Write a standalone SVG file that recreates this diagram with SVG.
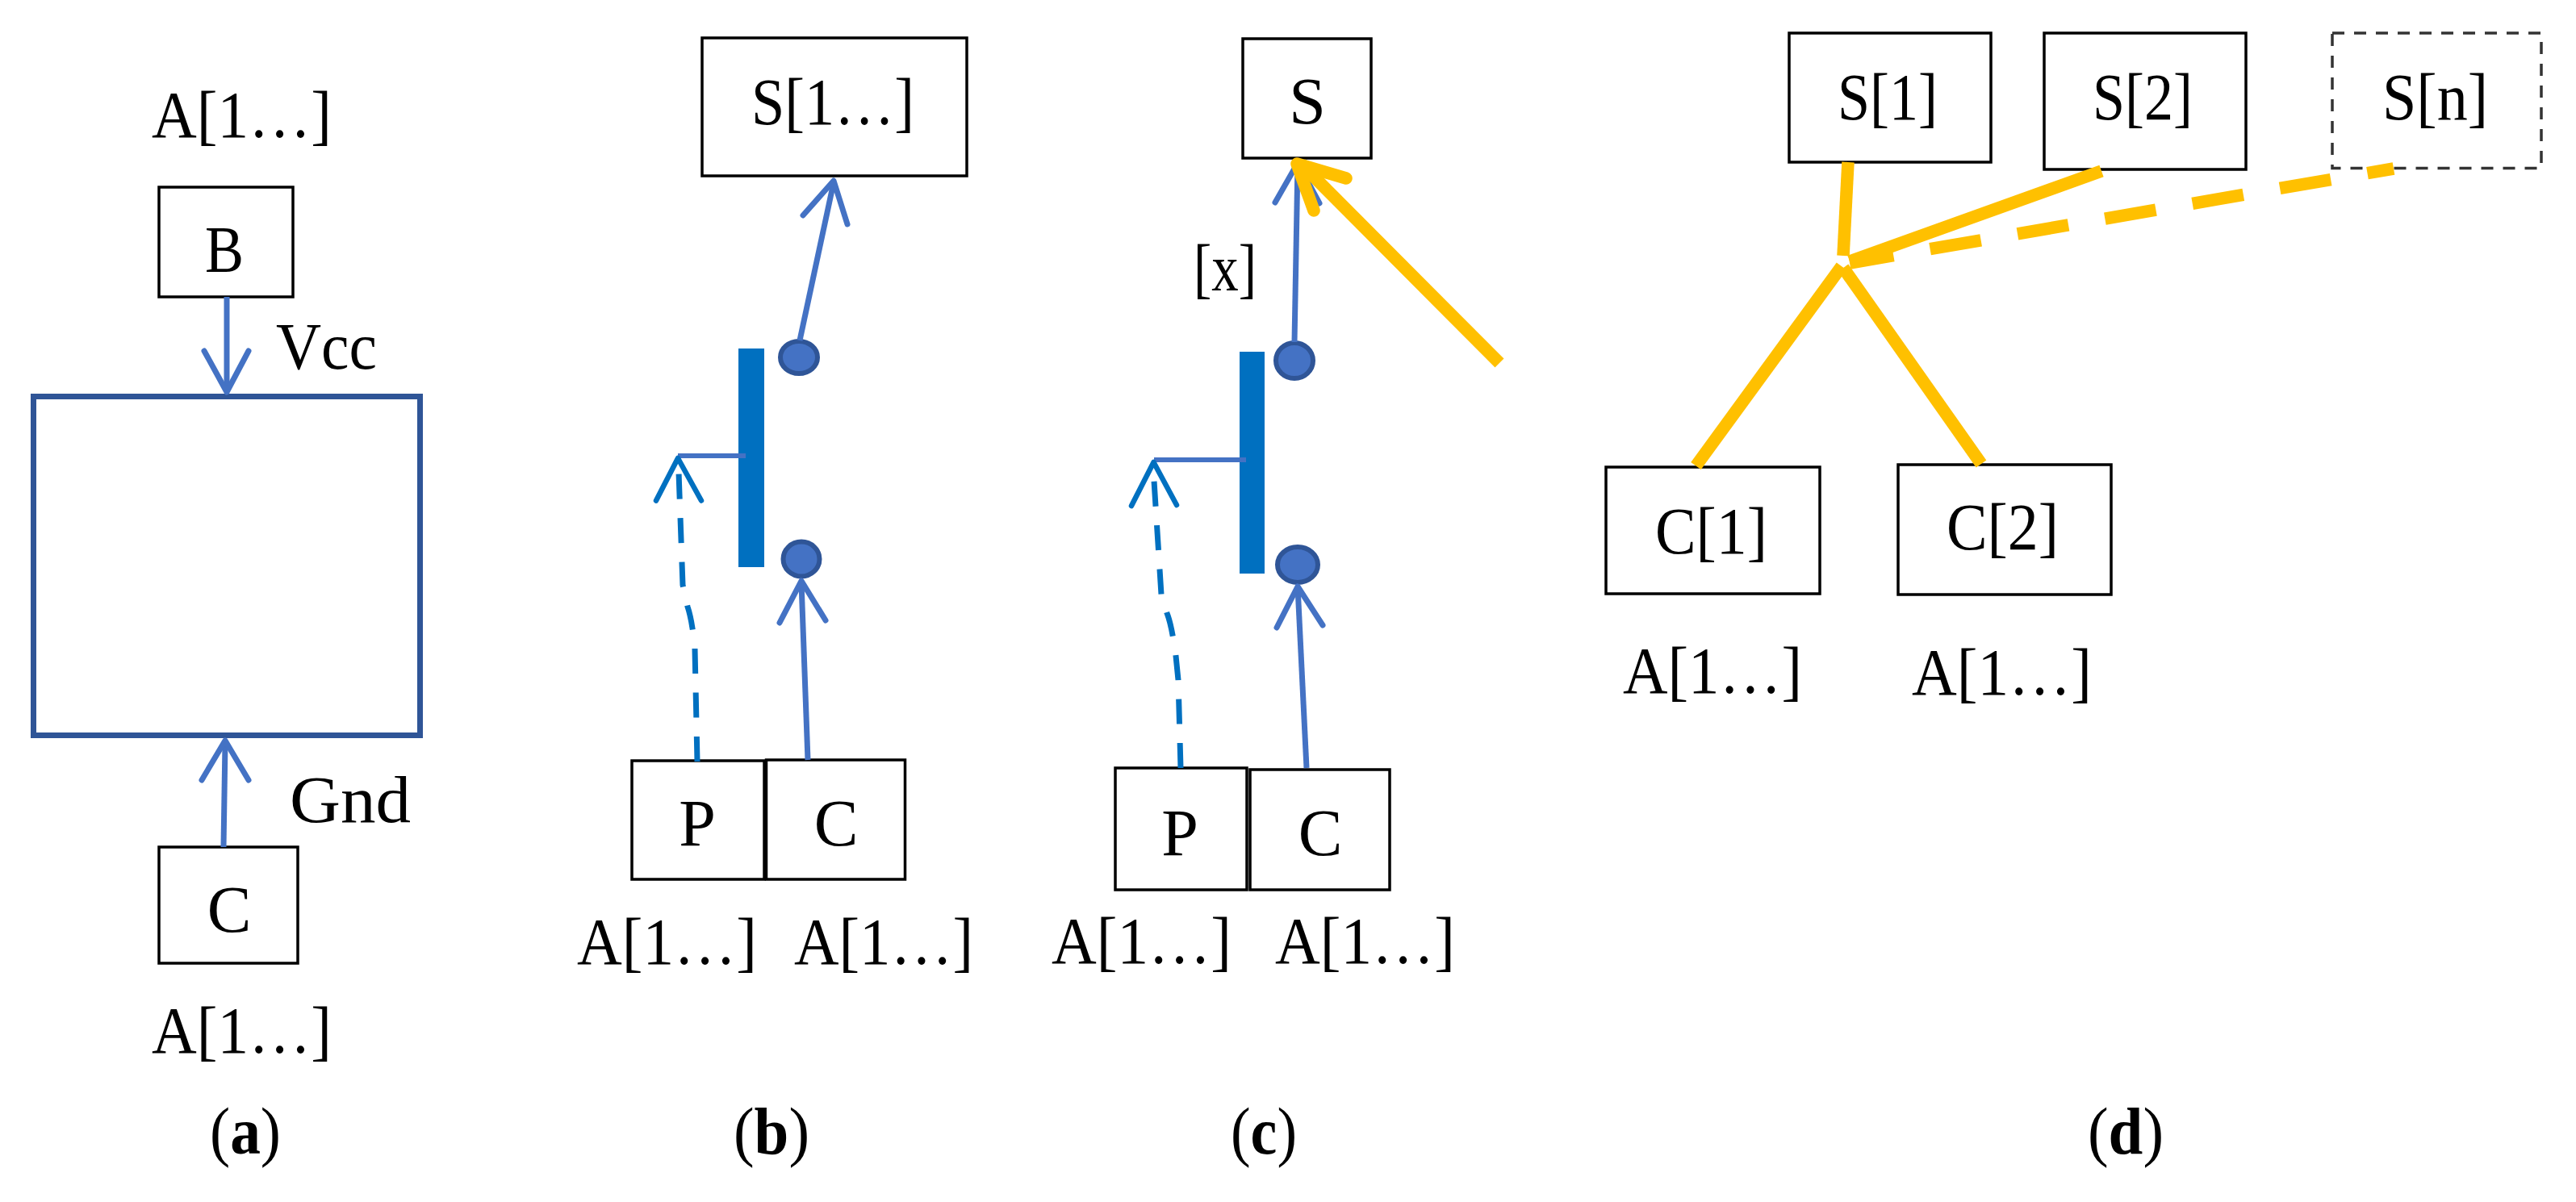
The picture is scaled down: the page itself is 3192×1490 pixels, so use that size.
<svg xmlns="http://www.w3.org/2000/svg" width="3192" height="1490" viewBox="0 0 3192 1490">
<style>
text{font-family:"Liberation Serif","Times New Roman",serif;font-size:82px;fill:#000}
.box{fill:#fff;stroke:#000;stroke-width:3.5}
.dash{stroke:#333;stroke-dasharray:15 12}
.c{text-anchor:middle}
.bar{fill:#0070C0}
.dot{fill:#4472C4;stroke:#2F5597;stroke-width:6}
.ln{fill:none;stroke:#4472C4;stroke-width:7;stroke-linecap:round;stroke-linejoin:round}
.butt{stroke-linecap:butt}
.stub{stroke-width:6}
.ctl{fill:none;stroke:#0070C0;stroke-width:6.5;stroke-linecap:round;stroke-linejoin:round}
.ctld{fill:none;stroke:#0070C0;stroke-width:7;stroke-dasharray:31 23.5}
.y{fill:none;stroke:#FFC000;stroke-width:15.5}
</style>
<rect width="3192" height="1490" fill="#fff"/>

<g id="panel-a">
<g id="a-label-top"><text x="188" y="170" textLength="223" lengthAdjust="spacingAndGlyphs">A[1…]</text></g>
<g id="a-b"><rect class="box" x="197" y="232" width="166" height="136"/><text class="c" x="278" y="337" textLength="48" lengthAdjust="spacingAndGlyphs">B</text></g>
<g id="a-vcc"><text x="342" y="457" textLength="125" lengthAdjust="spacingAndGlyphs">Vcc</text></g>
<g id="a-main"><rect x="41.5" y="491.5" width="479" height="420" fill="#fff" stroke="#2F5597" stroke-width="7"/></g>
<g id="a-gnd"><text x="359" y="1019" textLength="150" lengthAdjust="spacingAndGlyphs">Gnd</text></g>
<g id="a-c"><rect class="box" x="197" y="1050" width="172" height="144"/><text class="c" x="284" y="1155">C</text></g>
<g id="a-label-bottom"><text x="188" y="1305" textLength="223" lengthAdjust="spacingAndGlyphs">A[1…]</text></g>
<g id="a-caption"><text x="260" y="1430" textLength="88" lengthAdjust="spacingAndGlyphs">(<tspan font-weight="700">a</tspan>)</text></g>
</g>

<g id="panel-b">
<g id="b-s"><rect class="box" x="870" y="47" width="328" height="171"/><text x="931" y="154" textLength="202" lengthAdjust="spacingAndGlyphs">S[1…]</text></g>
<g id="b-switch"><rect class="bar" x="915" y="432" width="32" height="271"/><ellipse class="dot" cx="990" cy="443" rx="23" ry="20"/><ellipse class="dot" cx="993" cy="693" rx="22.500" ry="21.500"/></g>
<g id="b-p"><rect class="box" x="783" y="943" width="164" height="147"/><text class="c" x="864" y="1048">P</text></g>
<g id="b-c"><rect class="box" x="949.500" y="942" width="172" height="148"/><text class="c" x="1036" y="1048">C</text></g>
<g id="b-label-p"><text x="715" y="1195" textLength="223" lengthAdjust="spacingAndGlyphs">A[1…]</text></g>
<g id="b-label-c"><text x="984" y="1195" textLength="222" lengthAdjust="spacingAndGlyphs">A[1…]</text></g>
<g id="b-caption"><text x="909" y="1430" textLength="94" lengthAdjust="spacingAndGlyphs">(<tspan font-weight="700">b</tspan>)</text></g>
</g>

<g id="panel-c">
<g id="c-s"><rect class="box" x="1540" y="48" width="159" height="148"/><text class="c" x="1620" y="153">S</text></g>
<g id="c-x"><text x="1479" y="360" textLength="78" lengthAdjust="spacingAndGlyphs">[x]</text></g>
<g id="c-switch"><rect class="bar" x="1536" y="436" width="31" height="275"/><ellipse class="dot" cx="1604" cy="447" rx="23" ry="22"/><ellipse class="dot" cx="1608" cy="700" rx="25" ry="22"/></g>
<g id="c-p"><rect class="box" x="1382" y="952" width="163" height="151"/><text class="c" x="1462" y="1060">P</text></g>
<g id="c-c"><rect class="box" x="1549" y="954" width="173" height="149"/><text class="c" x="1636" y="1060">C</text></g>
<g id="c-label-p"><text x="1303" y="1194" textLength="223" lengthAdjust="spacingAndGlyphs">A[1…]</text></g>
<g id="c-label-c"><text x="1580" y="1194" textLength="223" lengthAdjust="spacingAndGlyphs">A[1…]</text></g>
<g id="c-caption"><text x="1525" y="1430" textLength="82" lengthAdjust="spacingAndGlyphs">(<tspan font-weight="700">c</tspan>)</text></g>
</g>

<g id="panel-d">
<g id="d-s1"><rect class="box" x="2217" y="41" width="250" height="160"/><text x="2277" y="148" textLength="124" lengthAdjust="spacingAndGlyphs">S[1]</text></g>
<g id="d-s2"><rect class="box" x="2533" y="41" width="250" height="169"/><text x="2593" y="148" textLength="124" lengthAdjust="spacingAndGlyphs">S[2]</text></g>
<g id="d-sn"><rect class="box dash" x="2890" y="41" width="259" height="167.500"/><text x="2952" y="148" textLength="131" lengthAdjust="spacingAndGlyphs">S[n]</text></g>
<g id="d-c1"><rect class="box" x="1990" y="579" width="265" height="157"/><text x="2051" y="686" textLength="139" lengthAdjust="spacingAndGlyphs">C[1]</text></g>
<g id="d-c2"><rect class="box" x="2352" y="576" width="264" height="161"/><text x="2412" y="681" textLength="139" lengthAdjust="spacingAndGlyphs">C[2]</text></g>
<g id="d-label-1"><text x="2011" y="859" textLength="222" lengthAdjust="spacingAndGlyphs">A[1…]</text></g>
<g id="d-label-2"><text x="2369" y="861" textLength="223" lengthAdjust="spacingAndGlyphs">A[1…]</text></g>
<g id="d-caption"><text x="2587" y="1430" textLength="94" lengthAdjust="spacingAndGlyphs">(<tspan font-weight="700">d</tspan>)</text></g>
</g>

<g id="connectors">
<path class="ln butt" d="M281,368V486"/><path class="ln" d="M253,435L281,486L308,435"/>
<path class="ln butt" d="M277,1050L279,921"/><path class="ln" d="M250,967L279,918L308,967"/>

<path class="ln butt" d="M991,422L1033,226"/><path class="ln" d="M995,267L1033,224L1050,278"/>
<path class="ln butt" d="M1001,942L993,722"/><path class="ln" d="M966,772L993,720L1023,769"/>
<path class="ln stub butt" d="M840,565H924"/>
<path class="ctl" d="M813,620.500L840,568L869,620.500"/>
<path class="ctld" d="M864,944L861,804Q858,770 852,752L846,725L841,585"/>

<path class="ln butt" d="M1604,424L1608,202"/><path class="ln" d="M1580,251L1608,202L1635,252"/>
<path class="ln butt" d="M1619,952L1608,727"/><path class="ln" d="M1582,778L1608,727L1639,775"/>
<path class="ln stub butt" d="M1430,570H1544"/>
<path class="ctl" d="M1402,627L1429.500,573L1458,626"/>
<path class="ctld" d="M1463,952L1460,843L1457,813Q1452,775 1446,760L1439,737L1430,596"/>
<path class="y" d="M1858,450L1612,203"/>
<path class="y" stroke-linecap="round" stroke-linejoin="round" d="M1668,221L1607,203L1628,261"/>

<path class="y" d="M2290,201L2284,317"/>
<path class="y" d="M2604,212L2292,324"/>
<path class="y" stroke-dasharray="64 46" stroke-dashoffset="31" d="M2966,209L2292,326"/>
<path class="y" d="M2101.500,577.500L2282,330"/>
<path class="y" d="M2455,575L2284,332"/>
</g>
</svg>
